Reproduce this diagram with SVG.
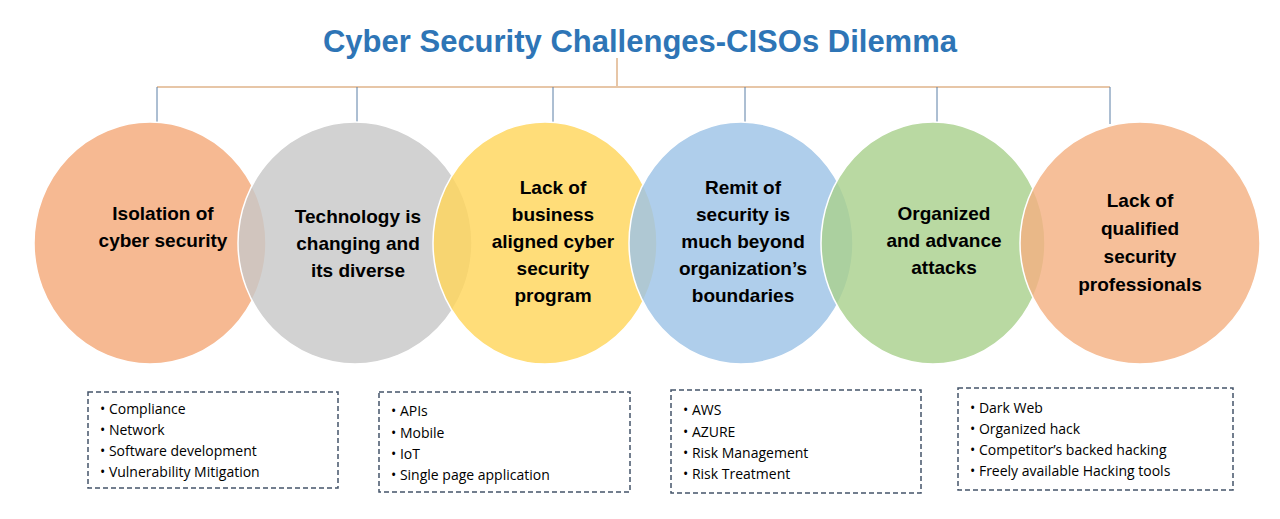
<svg xmlns="http://www.w3.org/2000/svg" width="1280" height="519" viewBox="0 0 1280 519">
<style>
.c{fill-opacity:0.82;stroke:#fff;stroke-width:1.5}
.t{font-family:"Liberation Sans",Arial,sans-serif;font-weight:bold;font-size:19px;fill:#000;text-anchor:middle}
.b{font-family:"Open Sans","Liberation Sans",sans-serif;font-size:14px;fill:#000}
.box{fill:#fff;stroke:#44546a;stroke-width:1.5;stroke-dasharray:5,3}
.ln{stroke:#e0b48a;stroke-width:1.5;fill:none}
.dr{stroke:#5b7fa6;stroke-width:1;fill:none}
</style>
<rect width="1280" height="519" fill="#fff"/>
<text x="640" y="52" text-anchor="middle" font-family="'Liberation Sans',Arial,sans-serif" font-weight="bold" font-size="31" fill="#2e75b6">Cyber Security Challenges-CISOs Dilemma</text>
<g id="connectors">
<path class="ln" d="M617 58V86M157 87H1110"/>
<path class="dr" d="M157 87V122M357 87V122M553 87V122M745 87V122M937 87V122M1110 87V124"/>
</g>
<g id="n1"><ellipse class="c" cx="150" cy="243" rx="116" ry="121" fill="#f4a97a"/>
<text class="t" x="163" y="220">Isolation of</text><text class="t" x="163" y="247">cyber security</text></g>
<g id="n2"><ellipse class="c" cx="355" cy="243" rx="117" ry="121" fill="#c8c8c8"/>
<text class="t" x="358" y="223">Technology is</text><text class="t" x="358" y="250">changing and</text><text class="t" x="358" y="277">its diverse</text></g>
<g id="n3"><ellipse class="c" cx="545" cy="243" rx="112" ry="121" fill="#ffd65c"/>
<text class="t" x="553" y="194">Lack of</text><text class="t" x="553" y="221">business</text><text class="t" x="553" y="248">aligned cyber</text><text class="t" x="553" y="275">security</text><text class="t" x="553" y="302">program</text></g>
<g id="n4"><ellipse class="c" cx="741" cy="243" rx="112" ry="121" fill="#9dc3e6"/>
<text class="t" x="743" y="194">Remit of</text><text class="t" x="743" y="221">security is</text><text class="t" x="743" y="248">much beyond</text><text class="t" x="743" y="275">organization’s</text><text class="t" x="743" y="302">boundaries</text></g>
<g id="n5"><ellipse class="c" cx="933" cy="243" rx="112" ry="121" fill="#a9d18e"/>
<text class="t" x="944" y="220">Organized</text><text class="t" x="944" y="247">and advance</text><text class="t" x="944" y="274">attacks</text></g>
<g id="n6"><ellipse class="c" cx="1140" cy="243" rx="120" ry="121" fill="#f4b183"/>
<text class="t" x="1140" y="207" font-size="21">Lack of</text><text class="t" x="1140" y="235" font-size="21">qualified</text><text class="t" x="1140" y="263" font-size="21">security</text><text class="t" x="1140" y="291" font-size="21">professionals</text></g>
<g id="box1"><rect class="box" x="88" y="392" width="250" height="96"/>
<text class="b" x="100" y="414">•   Compliance</text><text class="b" x="100" y="435">•   Network</text><text class="b" x="100" y="456">•   Software development</text><text class="b" x="100" y="477">•   Vulnerability Mitigation</text></g>
<g id="box2"><rect class="box" x="379" y="392" width="251" height="100"/>
<text class="b" x="391" y="416">•   APIs</text><text class="b" x="391" y="438">•   Mobile</text><text class="b" x="391" y="459">•   IoT</text><text class="b" x="391" y="480">•   Single page application</text></g>
<g id="box3"><rect class="box" x="671" y="390" width="250" height="103"/>
<text class="b" x="683" y="415">•   AWS</text><text class="b" x="683" y="437">•   AZURE</text><text class="b" x="683" y="458">•   Risk Management</text><text class="b" x="683" y="479">•   Risk Treatment</text></g>
<g id="box4"><rect class="box" x="958" y="388" width="275" height="102"/>
<text class="b" x="970" y="413">•   Dark Web</text><text class="b" x="970" y="434">•   Organized hack</text><text class="b" x="970" y="455">•   Competitor’s backed hacking</text><text class="b" x="970" y="476">•   Freely available Hacking tools</text></g>
</svg>
